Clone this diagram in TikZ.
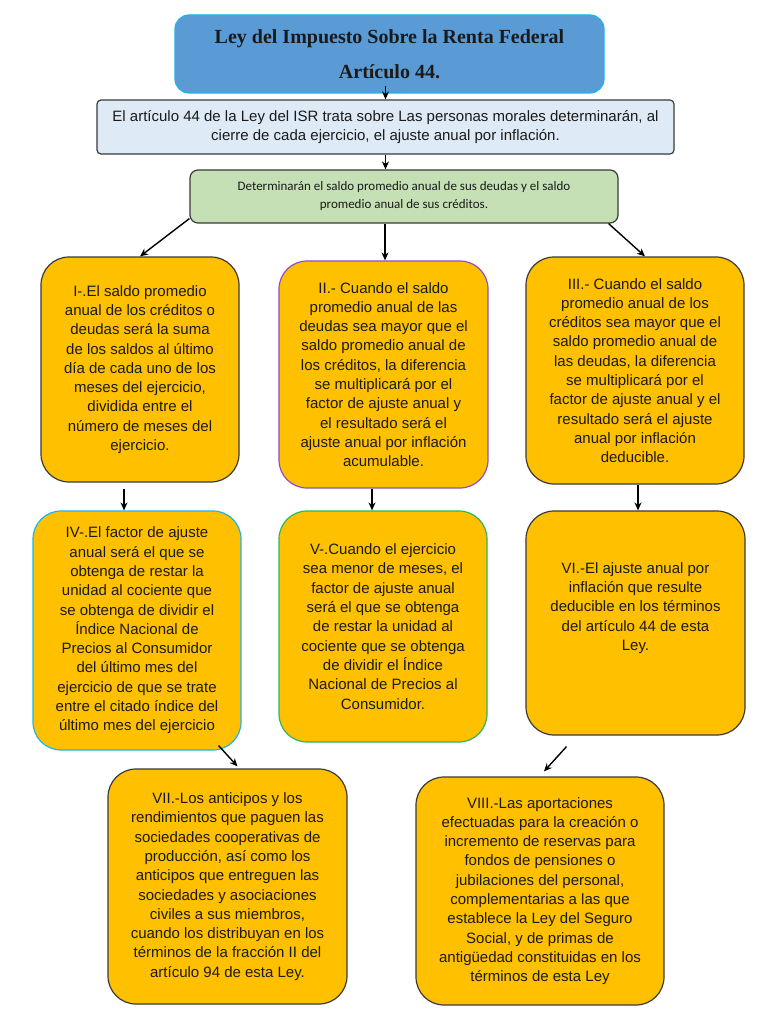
\documentclass[tikz,border=0pt]{standalone}
\usepackage{fontspec}
\setmainfont{Liberation Sans}
\newfontfamily\titlefont{Liberation Serif}
\newfontfamily\calfont{Carlito}
\usetikzlibrary{arrows.meta,calc}
\definecolor{boxorange}{HTML}{FFC000}
\definecolor{titleblue}{HTML}{5B9BD5}
\definecolor{titleedge}{HTML}{1DB4EC}
\definecolor{paleblue}{HTML}{DEEBF7}
\definecolor{palegreen}{HTML}{C5E0B4}
\definecolor{edgegrey}{HTML}{3A3A3A}
\definecolor{purpleedge}{HTML}{8E4FBF}
\definecolor{cyanedge}{HTML}{1AB6EE}
\definecolor{greenedge}{HTML}{2DB65A}
\definecolor{txt}{HTML}{1A1A1A}
\tikzset{
  obox/.style={draw=edgegrey, fill=boxorange, line width=1.2pt, rounded corners=28pt,
    inner sep=0pt, align=center, text=txt, font=\fontsize{15}{19.3}\selectfont},
  arr/.style={line width=1.4pt, -{Stealth[length=8pt,width=7pt]}},
}
\begin{document}
\begin{tikzpicture}[x=1pt,y=-1pt]
\useasboundingbox (0,0) rectangle (768,1024);
\fill[white] (0,0) rectangle (768,1024);

\node[draw=titleedge, fill=titleblue, line width=1.2pt, rounded corners=14pt,
  minimum width=429pt, minimum height=78pt, inner sep=0pt, align=center, text=txt,
  font=\titlefont\bfseries\fontsize{20}{35}\selectfont] (title) at (389.5,54)
  {Ley del Impuesto Sobre la Renta Federal\\Artículo 44.};

\node[draw=edgegrey, fill=paleblue, line width=1.2pt, rounded corners=4pt,
  minimum width=577pt, minimum height=54pt, inner sep=0pt, align=center, text=txt,
  font=\fontsize{15}{19}\selectfont] (intro) at (385.5,127)
  {El artículo 44 de la Ley del ISR trata sobre Las personas morales determinarán, al\\cierre de cada ejercicio, el ajuste anual por inflación.};

\node[draw=edgegrey, fill=palegreen, line width=1.2pt, rounded corners=8pt,
  minimum width=428pt, minimum height=53pt, inner sep=0pt, align=center, text=txt,
  font=\calfont\fontsize{13}{18}\selectfont] (green) at (404,196.5)
  {Determinarán el saldo promedio anual de sus deudas y el saldo\\promedio anual de sus créditos.};

\node[obox, minimum width=198pt, minimum height=225pt] (b1) at (140,369.5)
  {I-.El saldo promedio\\anual de los créditos o\\deudas será la suma\\de los saldos al último\\día de cada uno de los\\meses del ejercicio,\\dividida entre el\\número de meses del\\ejercicio.};

\node[obox, draw=purpleedge, minimum width=209pt, minimum height=227pt] (b2) at (383.5,374.5)
  {II.- Cuando el saldo\\promedio anual de las\\deudas sea mayor que el\\saldo promedio anual de\\los créditos, la diferencia\\se multiplicará por el\\factor de ajuste anual y\\el resultado será el\\ajuste anual por inflación\\acumulable.};

\node[obox, minimum width=218pt, minimum height=227pt] (b3) at (635,370.5)
  {III.- Cuando el saldo\\promedio anual de los\\créditos sea mayor que el\\saldo promedio anual de\\las deudas, la diferencia\\se multiplicará por el\\factor de ajuste anual y el\\resultado será el ajuste\\anual por inflación\\deducible.};

\node[obox, draw=cyanedge, minimum width=208pt, minimum height=239pt] (b4) at (137,630.5)
  {IV-.El factor de ajuste\\anual será el que se\\obtenga de restar la\\unidad al cociente que\\se obtenga de dividir el\\Índice Nacional de\\Precios al Consumidor\\del último mes del\\ejercicio de que se trate\\entre el citado índice del\\último mes del ejercicio};

\node[obox, draw=greenedge, minimum width=208pt, minimum height=231pt] (b5) at (383,626.5)
  {V-.Cuando el ejercicio\\sea menor de meses, el\\factor de ajuste anual\\será el que se obtenga\\de restar la unidad al\\cociente que se obtenga\\de dividir el Índice\\Nacional de Precios al\\Consumidor.};

\node[obox, minimum width=219pt, minimum height=224pt] (b6) at (635.5,623)
  {VI.-El ajuste anual por\\inflación que resulte\\deducible en los términos\\del artículo 44 de esta\\Ley.\\[14pt]\mbox{}};

\node[obox, minimum width=239pt, minimum height=235pt] (b7) at (227.5,886.5)
  {VII.-Los anticipos y los\\rendimientos que paguen las\\sociedades cooperativas de\\producción, así como los\\anticipos que entreguen las\\sociedades y asociaciones\\civiles a sus miembros,\\cuando los distribuyan en los\\términos de la fracción II del\\artículo 94 de esta Ley.};

\node[obox, minimum width=248pt, minimum height=228pt] (b8) at (540,891)
  {VIII.-Las aportaciones\\efectuadas para la creación o\\incremento de reservas para\\fondos de pensiones o\\jubilaciones del personal,\\complementarias a las que\\establece la Ley del Seguro\\Social, y de primas de\\antigüedad constituidas en los\\términos de esta Ley};

% connectors
\draw[arr] ($(title.south -| intro.north)+(0,-8)$) -- (intro.north);
\draw[arr] (intro.south) -- (intro.south |- green.north);
\draw[arr] ($(green.south west)+(0,-5)$) -- (b1.north);
\draw[arr] ($(green.south -| b2.north)+(1.5,0)$) -- ($(b2.north)+(1.5,0)$);
\draw[arr] ($(green.south east)+(-10,0)$) -- ($(b3.north)+(10,0)$);
\draw[arr] ($(b1.south)+(-16,6)$) -- ($(b4.north)+(-13,0)$);
\draw[arr] ($(b2.south)+(-11.5,0)$) -- ($(b5.north)+(-11,0)$);
\draw[arr, line width=2.4pt] ($(b3.south)+(3,0)$) -- ($(b6.north)+(2.5,0)$);
\draw[arr] ($(b4.south east)+(-23,-5)$) -- ($(b7.north)+(10,-2)$);
\draw[arr] ($(b6.south)+(-69,11)$) -- ($(b8.north)+(4,-5)$);
\end{tikzpicture}
\end{document}
